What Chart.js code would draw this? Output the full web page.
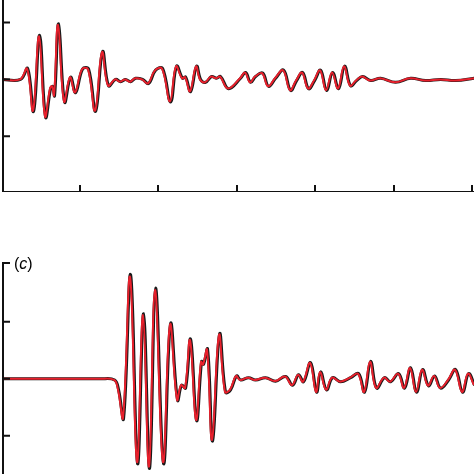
<!DOCTYPE html>
<html>
<head>
<meta charset="utf-8">
<script src="https://cdn.jsdelivr.net/npm/chart.js@4"></script>
<style>
  body { margin: 0; background: #fff; width: 474px; height: 474px; position: relative; overflow: hidden; }
  .box { position: absolute; left: 0; width: 474px; }
  #label { position: absolute; left: 14px; top: 255px; font: 16px "Liberation Sans", Arial, sans-serif; }
</style>
</head>
<body>
<div class="box" style="top:0;height:192px"><canvas id="topChart"></canvas></div>
<div class="box" style="top:262px;height:212px"><canvas id="bottomChart"></canvas></div>
<div id="label">(<i>c</i>)</div>
<script>
// top trace (b)
const topTime = [0,20,27,33,39,45,50,52,54,58,64,70,75,82,88,95,102,108,115,120,125,130,135,142,148,155,162,170,176,182,185,190,196,200,205,211,216,220,228,240,245,250,255,262,268,275,283,290,296,302,308,314,320,326,332,338,344,350,356,362,370,380,395,410,425,440,455,474];
const topAmp = [0,0,0.19,-0.55,0.76,-0.65,-0.16,-0.12,-0.28,0.96,-0.39,0.04,-0.23,0.18,0.18,-0.55,0.48,-0.11,0,-0.04,0,-0.04,0.02,0,-0.07,0.16,0.19,-0.39,0.23,0.02,0.04,-0.21,0.23,0,-0.05,0.05,0.02,0.05,-0.16,0.02,0.12,-0.05,0.05,0.11,-0.12,0.02,0.16,-0.19,-0.02,0.12,-0.16,-0.02,0.16,-0.19,0.12,-0.16,0.23,-0.11,-0.02,0.05,-0.02,0.02,-0.05,0.02,-0.02,0,-0.02,0.02];

// bottom trace (c)
const botTime = [0,100,114,118,123,130,137,143,149,155,163,170,177,181,185,190,196,201,203,207,212,219,225,230,236,240,248,255,265,275,285,292,298,303,310,316,320,326,332,340,350,358,364,370,376,384,390,398,404,410,416,422,428,434,440,448,455,462,468,474];
const botAmp = [0,0,-0.02,-0.19,-0.68,1.79,-1.46,1.12,-1.54,1.56,-1.46,0.95,-0.37,-0.11,-0.16,0.68,-0.72,0.30,0.25,0.51,-1.07,0.77,-0.23,-0.19,0.05,-0.02,0.02,-0.02,0.02,-0.04,0.04,-0.11,0.07,-0.05,0.28,-0.23,0.12,-0.19,0.02,-0.05,0.02,0.09,-0.23,0.30,-0.16,0.02,-0.05,0.09,-0.16,0.19,-0.23,0.16,-0.12,0.05,-0.16,-0.02,0.16,-0.23,0.09,-0.11];

const yTicks = [1, 0, -1];

// draws axis lines with inward ticks
function axesPlugin(xTicks, topTick) {
    return {
        id: 'axes',
        afterDraw(chart) {
            const ctx = chart.ctx;
            const a = chart.chartArea;
            const x = chart.scales.x, y = chart.scales.y;
            ctx.save();
            ctx.strokeStyle = '#111';
            ctx.lineWidth = 2;
            ctx.beginPath();
            ctx.moveTo(a.left, a.top);
            ctx.lineTo(a.left, a.bottom);
            if (xTicks.length) ctx.lineTo(a.right, a.bottom);
            yTicks.forEach(v => {
                const py = y.getPixelForValue(v);
                ctx.moveTo(a.left, py);
                ctx.lineTo(a.left + 7, py);
            });
            if (topTick) {
                ctx.moveTo(a.left, a.top + 1);
                ctx.lineTo(a.left + 7, a.top + 1);
            }
            xTicks.forEach(v => {
                const px = x.getPixelForValue(v);
                ctx.moveTo(px, a.bottom);
                ctx.lineTo(px, a.bottom - 7);
            });
            ctx.stroke();
            ctx.restore();
        }
    };
}

function makeChart(id, times, amps, yMin, yMax, xTicks, topTick) {
    const pts = times.map((t, i) => ({ x: t, y: amps[i] }));
    return new Chart(document.getElementById(id), {
        type: 'scatter',
        data: {
            datasets: [
                { data: pts, showLine: true, borderColor: '#e8202c', borderWidth: 2, pointRadius: 0, tension: 0.4, order: 0 },
                { data: pts.map(p => ({ x: p.x + 0.6, y: p.y * 1.02 })), showLine: true, borderColor: '#1a1a1a', borderWidth: 3, pointRadius: 0, tension: 0.4, order: 1 }
            ]
        },
        options: {
            responsive: true,
            maintainAspectRatio: false,
            animation: false,
            layout: { padding: { left: 3, right: 0, top: 0, bottom: 0 } },
            plugins: { legend: { display: false }, tooltip: { enabled: false } },
            scales: {
                x: { type: 'linear', min: 3, max: 474, display: false },
                y: { min: yMin, max: yMax, display: false }
            }
        },
        plugins: [axesPlugin(xTicks, topTick)]
    });
}

makeChart('topChart', topTime, topAmp, -1.982, 1.398, [80, 158, 237, 315, 394, 472], false);
makeChart('bottomChart', botTime, botAmp, -1.67, 2.05, [], true);
</script>
</body>
</html>
